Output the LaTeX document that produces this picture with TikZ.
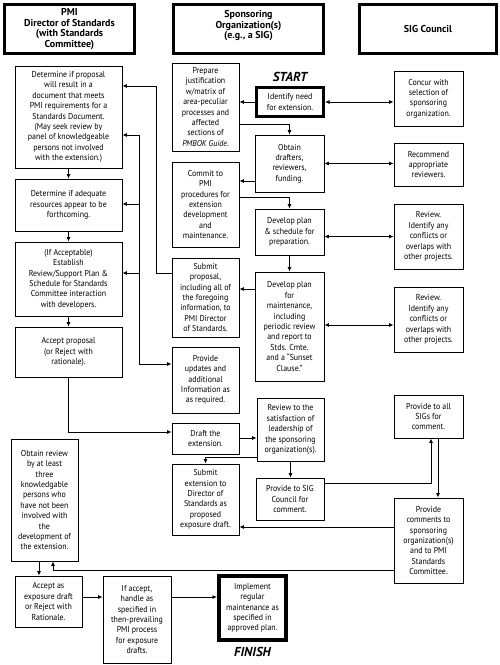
\documentclass[tikz,border=0pt]{standalone}
\usepackage{fontspec}
\newfontfamily\bodyf[FakeStretch=0.92]{PT Sans}
\newfontfamily\headf{PT Sans}
\usetikzlibrary{arrows.meta}
\tikzset{
  box/.style={draw, line width=0.9pt, align=center, inner sep=0pt,
    font=\bodyf\fontsize{8.6}{10.4}\selectfont},
  thickbox/.style={box, line width=3pt},
  hdr/.style={draw, line width=3.2pt, align=center, inner sep=0pt,
    font=\headf\bfseries\fontsize{10}{10.8}\selectfont},
  arr/.style={-{Latex[length=4.5pt,width=4pt]}, line width=0.8pt},
  dbl/.style={{Latex[length=4.5pt,width=4pt]}-{Latex[length=4.5pt,width=4pt]}, line width=0.8pt},
  plain/.style={line width=0.8pt},
  lbl/.style={font=\headf\bfseries\itshape\fontsize{13}{15}\selectfont},
}
\begin{document}
\begin{tikzpicture}[x=1pt,y=-1pt]
\useasboundingbox (0,0) rectangle (500,665);
\fill[white] (0,0) rectangle (500,665);
% headers
\node[hdr, minimum width=130pt, minimum height=49pt] (hpmi) at (69.5,29) {PMI\\Director of Standards\\(with Standards\\Committee)};
\node[hdr, minimum width=150pt, minimum height=49pt, text depth=9pt] (hspo) at (248.5,29) {Sponsoring\\Organization(s)\\(e.g., a SIG)};
\node[hdr, minimum width=137pt, minimum height=49pt] (hsig) at (428,29) {SIG Council};
% left column
\node[box, minimum width=107pt, minimum height=102pt] (dp) at (68.5,117) {Determine if proposal\\will result in a\\document that meets\\PMI requirements for a\\Standards Document.\\(May seek review by\\panel of knowledgeable\\persons not involved\\with the extension.)};
\node[box, minimum width=107pt, minimum height=52pt] (da) at (68.5,205) {Determine if adequate\\resources appear to be\\forthcoming.};
\node[box, minimum width=107pt, minimum height=74pt] (es) at (68.5,279) {(If Acceptable)\\Establish\\Review/Support Plan \&\\Schedule for Standards\\Committee interaction\\with developers.};
\node[box, minimum width=107pt, minimum height=50pt] (ap) at (68.5,352) {Accept proposal\\(or Reject with\\rationale).};
\node[box, minimum width=67pt, minimum height=122pt] (or) at (44.5,500) {Obtain review\\by at least\\three\\knowledgable\\persons who\\have not been\\involved with\\the\\development of\\the extension.};
\node[box, minimum width=67pt, minimum height=51pt] (ae) at (48.5,601.5) {Accept as\\exposure draft\\or Reject with\\Rationale.};
\node[box, minimum width=68pt, minimum height=87pt] (ia) at (137,619.5) {If accept,\\handle as\\specified in\\then-prevailing\\PMI process\\for exposure\\drafts.};
\node[box, line width=4pt, minimum width=67pt, minimum height=64pt] (im) at (252.5,608) {Implement\\regular\\maintenance as\\specified in\\approved plan.};
% middle column
\node[box, minimum width=67pt, minimum height=88pt] (pr) at (205.5,107) {Prepare\\justification\\w/matrix of\\area-peculiar\\processes and\\affected\\sections of\\\textit{PMBOK Guide}.};
\node[thickbox, minimum width=67pt, minimum height=29pt] (id) at (290,102) {Identify need\\for extension.};
\node[box, minimum width=69pt, minimum height=57pt] (ob) at (289.5,163.5) {Obtain\\drafters,\\reviewers,\\funding.};
\node[box, minimum width=67pt, minimum height=85pt] (co) at (205.5,204.5) {Commit to\\PMI\\procedures for\\extension\\development\\and\\maintenance.};
\node[box, minimum width=69pt, minimum height=46pt] (dps) at (289.5,232) {Develop plan\\\& schedule for\\preparation.};
\node[box, minimum width=67pt, minimum height=79pt] (su) at (205.5,297.5) {Submit\\proposal,\\including all of\\the foregoing\\information, to\\PMI Director\\of Standards.};
\node[box, minimum width=69pt, minimum height=109pt] (dpm) at (289.5,326.5) {Develop plan\\for\\maintenance,\\including\\periodic review\\and report to\\Stds. Cmte.\\and a “Sunset\\Clause.”};
\node[box, minimum width=67pt, minimum height=66pt] (pu) at (205.5,380) {Provide\\updates and\\additional\\Information as\\as required.};
\node[box, minimum width=67pt, minimum height=31pt] (dr) at (205.5,438.5) {Draft the\\extension.};
\node[box, minimum width=67pt, minimum height=63pt] (rs) at (290.5,429.5) {Review to the\\satisfaction of\\leadership of\\the sponsoring\\organization(s).};
\node[box, minimum width=67pt, minimum height=71pt] (se) at (205.5,499.5) {Submit\\extension to\\Director of\\Standards as\\proposed\\exposure draft.};
\node[box, minimum width=68pt, minimum height=42pt] (ps) at (290,499) {Provide to SIG\\Council for\\comment.};
% right column
\node[box, minimum width=69pt, minimum height=55pt] (cc) at (428.5,98.5) {Concur with\\selection of\\sponsoring\\organization.};
\node[box, minimum width=69pt, minimum height=43pt] (rr) at (428.5,164.5) {Recommend\\appropriate\\reviewers.};
\node[box, minimum width=69pt, minimum height=65pt] (r1) at (428.5,236.5) {Review.\\Identify any\\conflicts or\\overlaps with\\other projects.};
\node[box, minimum width=69pt, minimum height=65pt] (r2) at (428.5,319.5) {Review.\\Identify any\\conflicts or\\overlaps with\\other projects.};
\node[box, minimum width=69pt, minimum height=43pt] (pa) at (428.5,416.5) {Provide to all\\SIGs for\\comment.};
\node[box, minimum width=69pt, minimum height=85pt] (pc) at (428.5,540.5) {Provide\\comments to\\sponsoring\\organization(s)\\and to PMI\\Standards\\Committee.};
% labels
\node[lbl] (start) at (290,77) {START};
\node[lbl] (finish) at (252.5,652) {FINISH};
% connectors: double arrows
\draw[dbl] (id.east) -- (id.east -| cc.west);
\draw[dbl] (ob.east) -- (ob.east -| rr.west);
\draw[dbl] (r1.west -| dps.east) -- (r1.west);
\draw[dbl] (dpm.east |- 0,325) -- (r2.west |- 0,325);
% middle flow
\draw[arr] (id.west) -- (id.west -| pr.east);
\draw[arr] (pr.east |- 0,124) -| (ob.north);
\draw[arr] (ob.west |- 0,181) -- (co.east |- 0,181);
\draw[arr] (co.east |- 0,197) -| (dps.north);
\draw[arr] (dps.south) -- (dpm.north);
\draw[arr] (dpm.west |- 0,289) -- (su.east |- 0,289);
% left flow
\draw[arr] (dp.south) -- (da.north);
\draw[arr] (da.south) -- (es.north);
\draw[arr] (es.south) -- (ap.north);
\draw[arr] (su.west |- 0,273) -| (156,86) -- (dp.east |- 0,86);
\draw[plain] (139,135) -- (139,364);
\draw[arr] (139,135) -- (dp.east |- 0,135);
\draw[arr] (139,204) -- (da.east |- 0,204);
\draw[arr] (139,273) -- (es.east |- 0,273);
\draw[arr] (139,364) -- (pu.west |- 0,364);
% lower flow
\draw[arr] (ap.south) |- (dr.west |- 0,432);
\draw[arr] (dr.east |- 0,438) -- (rs.west |- 0,438);
\draw[arr] (rs.south) -- (rs.south |- ps.north);
\draw[arr] (rs.west |- 0,457) -| (se.north);
\draw[arr] (ps.east |- 0,483) -| (pa.south -| 431,0);
\draw[arr] (pa.south -| 438,0) -- (pc.north -| 438,0);
\draw[arr] (pc.west |- 0,527) -- (se.east |- 0,527);
\draw[arr] (pc.west |- 0,570) -| (or.south -| 53,0);
\draw[arr] (or.south -| 39,0) -- (ae.north -| 39,0);
\draw[arr] (ae.east |- 0,597) -- (ia.west |- 0,597);
\draw[arr] (ia.east |- 0,597) -- (im.west |- 0,597);
\end{tikzpicture}
\end{document}
